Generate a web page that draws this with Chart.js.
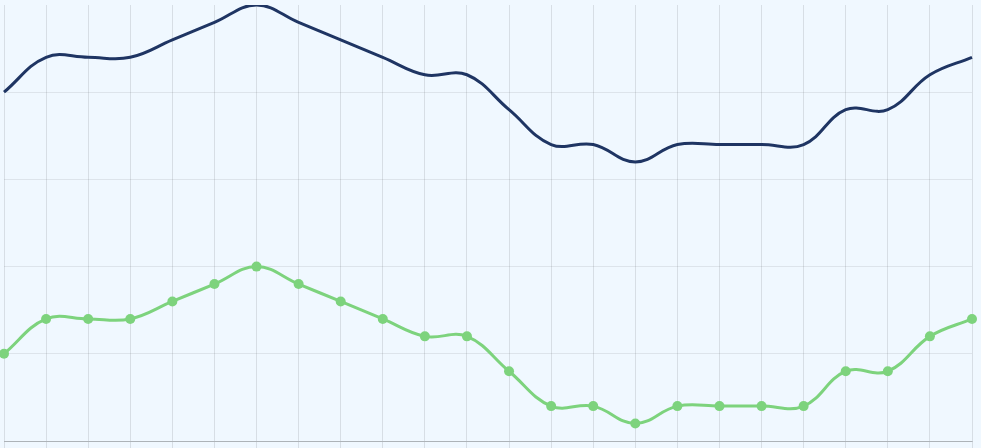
<!DOCTYPE html>
<html>
<head>
<meta charset="utf-8">
<script src="https://cdn.jsdelivr.net/npm/chart.js@4.4.0/dist/chart.umd.min.js"></script>
<style>
  html, body { margin: 0; padding: 0; background: #f0f8ff; overflow: hidden; }
  #wrap { width: 981px; height: 448px; }
</style>
</head>
<body>
<div id="wrap"><canvas id="lineChart"></canvas></div>
<script>
// 24 points along the x axis (labels are not shown in the picture)
var labels = ['1', '2', '3', '4', '5', '6', '7', '8', '9', '10', '11', '12',
              '13', '14', '15', '16', '17', '18', '19', '20', '21', '22', '23', '24'];

// upper series (dark line, no points)
var upperValues = [40, 44, 44, 44, 46, 48, 50, 48, 46, 44, 42, 42,
                   38, 34, 34, 32, 34, 34, 34, 34, 38, 38, 42, 44];

// lower series (green line with points)
var lowerValues = [10, 14, 14, 14, 16, 18, 20, 18, 16, 14, 12, 12,
                   8, 4, 4, 2, 4, 4, 4, 4, 8, 8, 12, 14];

var yMin = 0;
var yMax = 50;
var yStep = 10;

function buildLineChart() {
    const ctx = document.getElementById("lineChart");
    new Chart(ctx, {
        type: 'line',
        data: {
            labels: labels,
            datasets: [{
                label: 'Upper',
                data: upperValues,
                borderColor: '#1f3563',
                borderWidth: 3,
                pointRadius: 0,
                tension: 0.4,
                fill: false
            }, {
                label: 'Lower',
                data: lowerValues,
                borderColor: '#7dd37d',
                backgroundColor: '#7dd37d',
                borderWidth: 3,
                pointRadius: 5,
                pointBorderWidth: 0,
                tension: 0.4,
                fill: false
            }]
        },
        options: {
            responsive: true,
            maintainAspectRatio: false,
            animation: false,
            layout: { autoPadding: false, padding: { left: 4, right: 9, top: 5, bottom: 0 } },
            plugins: {
                legend: { display: false },
                tooltip: { enabled: false }
            },
            scales: {
                x: {
                    grid: { color: 'rgba(0,0,0,0.1)', tickLength: 7 },
                    border: { color: 'rgba(0,0,0,0.22)' },
                    ticks: { display: false }
                },
                y: {
                    min: yMin,
                    max: yMax,
                    ticks: { display: false, stepSize: yStep },
                    grid: {
                        // no line along the top edge
                        color: (c) => c.tick && c.tick.value === yMax ? 'rgba(0,0,0,0)' : 'rgba(0,0,0,0.08)',
                        drawTicks: false
                    },
                    border: { display: false }
                }
            }
        }
    });
}

window.onload = function () {
    buildLineChart();
}
</script>
</body>
</html>
